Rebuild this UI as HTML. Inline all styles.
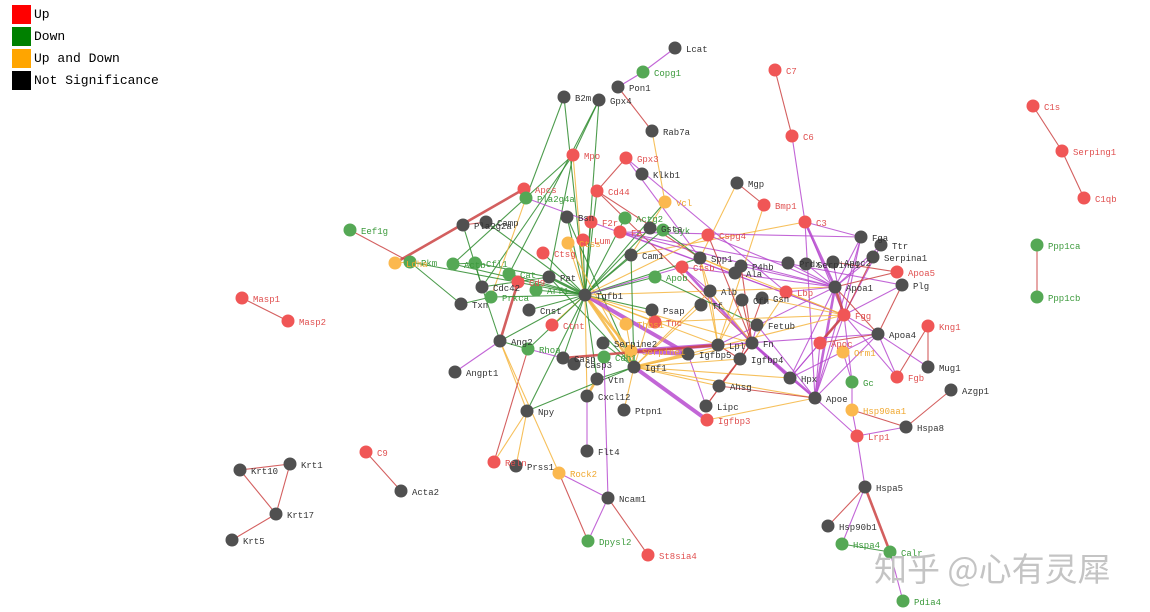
<!DOCTYPE html>
<html><head><meta charset="utf-8"><style>
body{margin:0;background:#fff;width:1150px;height:612px;overflow:hidden;font-family:"Liberation Mono",monospace}
.lg{position:absolute;left:12px;font-size:13px;color:#000}
.lg i{display:inline-block;width:19px;height:19px;vertical-align:middle;margin-right:3px}
</style></head><body>
<div class="lg" style="top:5px"><i style="background:#ff0000"></i>Up</div>
<div class="lg" style="top:27px"><i style="background:#008000"></i>Down</div>
<div class="lg" style="top:49px"><i style="background:#ffa500"></i>Up and Down</div>
<div class="lg" style="top:71px"><i style="background:#000"></i>Not Significance</div>
<svg id="s" width="1150" height="612" style="position:absolute;left:0;top:0"></svg>
<div style="position:absolute;left:874px;top:543px;font-family:'Noto Sans CJK SC',sans-serif;font-size:33px;color:#c4c4c4;white-space:nowrap">知乎 @心有灵犀</div>
<script>
const C={R:'#f05656',G:'#55a855',O:'#fbb84e',K:'#505050'};
const T={R:'#e05050',G:'#3c9a3c',O:'#f0a830',K:'#333'};
const N=[
['Lcat',675,48,'K'],['Copg1',643,72,'G'],['Pon1',618,87,'K'],['B2m',564,97,'K'],['Gpx4',599,100,'K'],['Rab7a',652,131,'K'],
['Mpo',573,155,'R'],['Gpx3',626,158,'R'],['Klkb1',642,174,'K'],['C7',775,70,'R'],['C6',792,136,'R'],['C1s',1033,106,'R'],
['Serping1',1062,151,'R'],['C1qb',1084,198,'R'],['Ppp1ca',1037,245,'G'],['Ppp1cb',1037,297,'G'],['Apcs',524,189,'R'],
['Pla2g4a',526,198,'G'],['Cd44',597,191,'R'],['Vcl',665,202,'O'],['Mgp',737,183,'K'],['Bmp1',764,205,'R'],['C3',805,222,'R'],
['Eef1g',350,230,'G'],['Pla2g2a',463,225,'K'],['Camp',486,222,'K'],['Bsn',567,217,'K'],['F2r',591,222,'R'],['Actg2',625,218,'G'],
['F2',620,232,'R'],['Gsta',650,228,'K'],['Syk',663,230,'G'],['Cspg4',708,235,'R'],['Fga',861,237,'K'],['Ttr',881,245,'K'],
['Serpina1',873,257,'K'],['Apoa5',897,272,'R'],['Plg',902,285,'K'],['Lum',583,240,'R'],['Ctss',568,243,'O'],['Ctsg',543,253,'R'],
['Pkm',410,262,'G'],['Ldha',395,263,'O'],['Actb',453,264,'G'],['Cfl1',475,263,'G'],['Cat',509,274,'G'],['Cd9',518,282,'R'],
['Cdc42',482,287,'K'],['Pat',549,277,'K'],['Arf1',536,290,'G'],['Tgfb1',585,295,'K'],['Prkca',491,297,'G'],['Txn',461,304,'K'],
['Cnst',529,310,'K'],['Ctnt',552,325,'R'],['Spp1',700,258,'K'],['Cam1',631,255,'K'],['Ctsb',682,267,'R'],['Apob',655,277,'G'],
['P4hb',741,266,'K'],['Ala',735,273,'K'],['Prdx',788,263,'K'],['Serpinc1',806,264,'K'],['Apoc2',833,262,'K'],['Apoa1',835,287,'K'],
['Alb',710,291,'K'],['Tf',701,305,'K'],['Cfh',742,300,'K'],['Gsn',762,298,'K'],['Lbp',786,292,'R'],['Psap',652,310,'K'],
['Tnc',655,322,'R'],['Thbs1',626,324,'O'],['Fetub',757,325,'K'],['Fgg',844,315,'R'],['Apoa4',878,334,'K'],['Kng1',928,326,'R'],
['Ang2',500,341,'K'],['Rhoa',528,349,'G'],['Serpine2',603,343,'K'],['Serpine1',631,351,'O'],['Igfbp5',688,354,'K'],['Lpl',718,345,'K'],
['Fn',752,343,'K'],['Apoc',820,343,'R'],['Orm1',843,352,'O'],['Igfbp4',740,359,'K'],['Mug1',928,367,'K'],['Fgb',897,377,'R'],
['Angpt1',455,372,'K'],['Casp',563,358,'K'],['Casp3',574,364,'K'],['Cdh1',604,357,'G'],['Igf1',634,367,'K'],['Ahsg',719,386,'K'],
['Hpx',790,378,'K'],['Gc',852,382,'G'],['Apoe',815,398,'K'],['Azgp1',951,390,'K'],['Vtn',597,379,'K'],['Cxcl12',587,396,'K'],
['Ptpn1',624,410,'K'],['Npy',527,411,'K'],['Lipc',706,406,'K'],['Igfbp3',707,420,'R'],['Hsp90aa1',852,410,'O'],['Lrp1',857,436,'R'],
['Hspa8',906,427,'K'],['Flt4',587,451,'K'],['C9',366,452,'R'],['Acta2',401,491,'K'],['Krt1',290,464,'K'],['Krt10',240,470,'K'],
['Krt17',276,514,'K'],['Krt5',232,540,'K'],['Masp1',242,298,'R'],['Masp2',288,321,'R'],['Reln',494,462,'R'],['Prss1',516,466,'K'],
['Rock2',559,473,'O'],['Ncam1',608,498,'K'],['Dpysl2',588,541,'G'],['St8sia4',648,555,'R'],['Hspa5',865,487,'K'],
['Hsp90b1',828,526,'K'],['Hspa4',842,544,'G'],['Calr',890,552,'G'],['Pdia4',903,601,'G']];
const M={};N.forEach(n=>M[n[0]]=n);
const E=[
'Lcat Copg1 p','Copg1 Pon1 p','Pon1 Rab7a r','Rab7a Vcl o','C7 C6 r','C6 C3 p','C1s Serping1 r','Serping1 C1qb r','Ppp1ca Ppp1cb r',
'Masp1 Masp2 r','C9 Acta2 r','Krt1 Krt10 r','Krt1 Krt17 r','Krt10 Krt17 r','Krt17 Krt5 r',
'B2m Pla2g4a g','B2m Tgfb1 g','Gpx4 Mpo g','Gpx4 Tgfb1 g','Gpx4 Cat g','Mpo Tgfb1 o','Mpo Pat g','Mpo Cdc42 g','Mpo Actb g',
'Gpx3 Cd44 r','Gpx3 Spp1 p','Gpx3 Lbp p','Apcs Ldha r2','Apcs Pla2g4a r','Pla2g4a Prkca o','Pla2g4a Fgg p','Cd44 Tgfb1 g','Cd44 Spp1 r','Cd44 Fn r',
'Vcl Cam1 o','Vcl Tgfb1 g','Mgp Spp1 o','Mgp Bmp1 r','Bmp1 Lpl o','C3 Fga p','C3 Apoa1 p2','C3 Apoe p','C3 Fgg p','C3 Cam1 o',
'Eef1g Pkm r','Ldha Pkm o','Pkm Tgfb1 g','Actb Cfl1 g','Cfl1 Pat g','Cfl1 Cdc42 g','Actb Tgfb1 g','Pla2g2a Camp r','Pla2g2a Cdc42 g','Camp Tgfb1 g',
'Bsn Tgfb1 g','Bsn Igf1 g','F2r Tgfb1 g','F2 Apoa1 p','F2 Fgg p','F2 Fga p','F2 Plg p','Actg2 Tgfb1 g','Gsta Tgfb1 g','Syk Tgfb1 g','Syk Spp1 g',
'Cspg4 Tgfb1 o','Cspg4 Fn r','Cspg4 Apoa1 p','Fga Fgg p','Fga Apoa1 p','Fga Apoe p','Ttr Apoa1 p','Ttr Fgg p','Serpina1 Apoa1 p','Serpina1 Fgg r',
'Apoa5 Apoa1 r','Apoa5 Apoc2 r','Plg Fgg p','Plg Apoa4 r','Lum Tgfb1 g','Ctss Tgfb1 o','Ctss Igf1 o','Ctsg Tgfb1 g','Cat Tgfb1 g','Cd9 Ang2 r2',
'Cdc42 Pat g','Cdc42 Ang2 g','Pat Tgfb1 g2','Pat Igf1 g','Arf1 Tgfb1 g','Prkca Tgfb1 g','Prkca Txn g','Txn Pkm g','Cnst Tgfb1 g','Ctnt Tgfb1 o',
'Tgfb1 Igf1 o2','Tgfb1 Serpine1 o2','Tgfb1 Thbs1 o','Tgfb1 Spp1 g','Tgfb1 Cam1 g','Tgfb1 Psap g','Tgfb1 Tnc o','Tgfb1 Igfbp5 p3','Tgfb1 Lpl o','Tgfb1 Alb o',
'Tgfb1 Rhoa g','Tgfb1 Casp g','Tgfb1 Vtn g','Tgfb1 Fn o','Tgfb1 Apob g','Tgfb1 Cxcl12 o','Tgfb1 Npy g','Tgfb1 Ang2 g',
'Spp1 Alb o','Spp1 Lpl o','Spp1 Fgg o','Spp1 Ala o','Cam1 Igf1 g','Ctsb Apoa1 p','Ctsb Fn p2','Ctsb Tgfb1 p','Apob Fetub g',
'P4hb Fn r','P4hb Apoa1 p','Prdx Apoa1 p','Serpinc1 Apoa1 p','Apoc2 Fgg p','Apoa1 Fgg r2','Apoa1 Apoe p2','Apoa1 Apoa4 r','Apoa1 Lpl p','Apoa1 Hpx p',
'Alb Fn o','Alb Lpl o','Alb Igf1 o','Alb Apoa1 o','Tf Igf1 o','Cfh Fn r','Gsn Igfbp4 r','Lbp Fn o','Lbp Fgg o','Lbp Apoa1 p',
'Psap Igf1 o','Tnc Fgg o','Thbs1 Igf1 o','Fetub Fn p','Fgg Apoa4 p','Fgg Apoe p','Fgg Gc p','Fgg Hpx p','Fgg Fgb p','Fgg Apoc r2',
'Apoa4 Apoe p','Apoa4 Hpx p','Apoa4 Lpl p','Apoa4 Fgb p','Kng1 Fgb r','Kng1 Mug1 r','Apoa4 Mug1 p','Apoa4 Apoc r',
'Ang2 Rhoa g','Ang2 Angpt1 p','Ang2 Npy o','Rhoa Reln r','Rhoa Casp p','Serpine2 Igf1 g','Serpine1 Igfbp5 p3','Serpine1 Lpl p3','Casp Lpl r2',
'Igfbp5 Lipc p','Lpl Fn p','Lpl Igfbp4 r','Fn Igfbp4 p','Fn Hpx p2','Fn Apoe p2','Fn Lipc r','Igfbp4 Ahsg r','Apoc Apoe p','Apoc Hpx p','Orm1 Gc p',
'Igf1 Igfbp3 p3','Igf1 Igfbp5 o2','Igf1 Igfbp4 o','Igf1 Ahsg o','Igf1 Npy g','Igf1 Ptpn1 o','Igf1 Vtn g','Igf1 Apoe o','Igf1 Hpx o','Igf1 Fn o',
'Cdh1 Ncam1 p','Cxcl12 Flt4 p','Vtn Cxcl12 o2','Hpx Apoe p','Gc Hsp90aa1 p','Apoe Lrp1 p','Hsp90aa1 Hspa8 r','Hsp90aa1 Lrp1 p','Lrp1 Hspa5 p','Hspa8 Azgp1 r','Hspa8 Lrp1 p',
'Hspa5 Hsp90b1 r','Hspa5 Hspa4 p','Hspa5 Calr r2','Calr Pdia4 p','Hspa4 Calr g','Npy Reln o','Npy Prss1 o','Ang2 Rock2 o','Rock2 Ncam1 p','Rock2 Dpysl2 r',
'Ncam1 Dpysl2 p','Ncam1 St8sia4 r','Igfbp3 Apoe o','Lipc Fn r','Ahsg Apoe r','Alb Ctsb p','Cfh Lpl o','Gsn Fgg o','Igfbp5 Fgg o','Fetub Apoe p'];
const col={g:'#2e8b2e',o:'#f5b640',p:'#b84cd0',r:'#cc4444'};
let h='';
E.forEach(e=>{const[a,b,c]=e.split(' ');const A=M[a],B=M[b];if(!A||!B)return;const w=c.length>1?+c[1]*1.3:1.1;
h+=`<line x1="${A[1]}" y1="${A[2]}" x2="${B[1]}" y2="${B[2]}" stroke="${col[c[0]]}" stroke-width="${w}" opacity=".85"/>`});
N.forEach(n=>{h+=`<circle cx="${n[1]}" cy="${n[2]}" r="6.5" fill="${C[n[3]]}"/>`});
N.forEach(n=>{h+=`<text x="${n[1]+11}" y="${n[2]+4}" font-size="9" font-family="Liberation Mono,monospace" fill="${T[n[3]]}">${n[0]}</text>`});
document.getElementById('s').innerHTML=h;
</script>
</body></html>
